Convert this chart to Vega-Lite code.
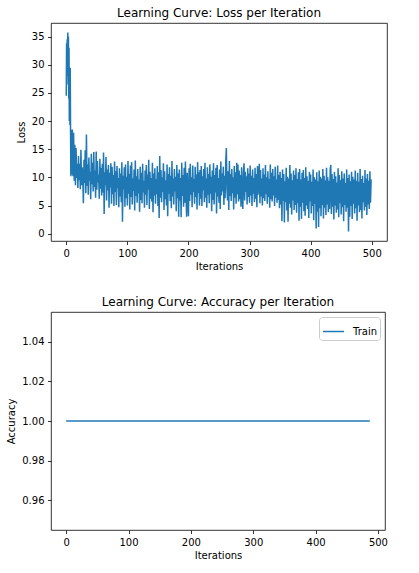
{
  "$schema": "https://vega.github.io/schema/vega-lite/v6.json",
  "background": "white",
  "padding": {"top": 6, "left": 6, "right": 5, "bottom": 5},
  "spacing": 23,
  "columns": 1,
  "resolve": {"legend": {"color": "independent"}, "scale": {"color": "independent"}},
  "config": {
    "font": "DejaVu Sans",
    "view": {"stroke": "black", "strokeWidth": 0.8},
    "axis": {
      "grid": false, "domain": false, "tickColor": "black", "tickSize": 3.5, "tickWidth": 0.8,
      "labelColor": "black", "labelFontSize": 10, "labelPadding": 3.5, "labelFont": "DejaVu Sans",
      "titleColor": "black", "titleFontSize": 10, "titleFontWeight": "normal", "titleFont": "DejaVu Sans"
    },
    "title": {"fontSize": 12, "fontWeight": "normal", "color": "black", "font": "DejaVu Sans", "offset": 3}
  },
  "datasets": {
    "loss": [
      {"i":0,"loss":24.5},{"i":0.5,"loss":33.8},{"i":1,"loss":26.5},{"i":1.5,"loss":34.5},{"i":2,"loss":28.0},{"i":2.5,"loss":35.7},{"i":3,"loss":30.5},{"i":3.5,"loss":35.0},{"i":4,"loss":24.0},{"i":4.5,"loss":33.0},
      {"i":5,"loss":20.0},{"i":5.5,"loss":29.5},{"i":6,"loss":19.3},{"i":6.5,"loss":29.4},{"i":7,"loss":18.6},{"i":7.5,"loss":10.2},{"i":8,"loss":18.4},{"i":8.5,"loss":11.0},{"i":9,"loss":17.8},{"i":9.5,"loss":10.5},
      {"i":10,"loss":18.5},{"i":11,"loss":10.2},{"i":12,"loss":17.9},{"i":13,"loss":9.4},{"i":14,"loss":15.8},{"i":15,"loss":8.6},{"i":16,"loss":15.2},{"i":17,"loss":9.9},{"i":18,"loss":12.4},{"i":19,"loss":8.1},
      {"i":20,"loss":13.8},{"i":21,"loss":9.5},{"i":22,"loss":12.4},{"i":23,"loss":7.9},{"i":24,"loss":14.9},{"i":25,"loss":8.6},{"i":26,"loss":11.8},{"i":27,"loss":10.2},{"i":28,"loss":5.4},{"i":29,"loss":13.1},
      {"i":30,"loss":9.0},{"i":31,"loss":14.8},{"i":32,"loss":7.2},{"i":33,"loss":17.6},{"i":34,"loss":8.5},{"i":35,"loss":12.3},{"i":36,"loss":6.9},{"i":37,"loss":13.5},{"i":38,"loss":9.4},{"i":39,"loss":11.0},
      {"i":40,"loss":6.1},{"i":41,"loss":14.2},{"i":42,"loss":8.8},{"i":43,"loss":12.6},{"i":44,"loss":7.5},{"i":45,"loss":14.5},{"i":46,"loss":8.3},{"i":47,"loss":11.2},{"i":48,"loss":6.4},{"i":49,"loss":14.6},
      {"i":50,"loss":7.8},{"i":51,"loss":12.9},{"i":52,"loss":9.1},{"i":53,"loss":10.5},{"i":54,"loss":6.2},{"i":55,"loss":13.3},{"i":56,"loss":8.0},{"i":57,"loss":11.7},{"i":58,"loss":6.8},{"i":59,"loss":12.4},
      {"i":60,"loss":7.3},{"i":61,"loss":14.4},{"i":62,"loss":3.5},{"i":63,"loss":10.9},{"i":64,"loss":8.6},{"i":65,"loss":13.6},{"i":66,"loss":5.9},{"i":67,"loss":11.4},{"i":68,"loss":7.7},{"i":69,"loss":12.2},
      {"i":70,"loss":4.6},{"i":71,"loss":10.8},{"i":72,"loss":8.2},{"i":73,"loss":12.5},{"i":74,"loss":5.3},{"i":75,"loss":11.9},{"i":76,"loss":7.0},{"i":77,"loss":10.4},{"i":78,"loss":4.9},{"i":79,"loss":12.8},
      {"i":80,"loss":7.4},{"i":81,"loss":11.1},{"i":82,"loss":5.1},{"i":83,"loss":12.0},{"i":84,"loss":8.1},{"i":85,"loss":9.9},{"i":86,"loss":4.7},{"i":87,"loss":11.6},{"i":88,"loss":6.6},{"i":89,"loss":10.7},
      {"i":90,"loss":5.6},{"i":91,"loss":12.7},{"i":92,"loss":2.1},{"i":93,"loss":10.3},{"i":94,"loss":7.9},{"i":95,"loss":11.8},{"i":96,"loss":4.8},{"i":97,"loss":12.3},{"i":98,"loss":6.3},{"i":99,"loss":10.1},
      {"i":100,"loss":5.0},{"i":101,"loss":12.9},{"i":102,"loss":7.1},{"i":103,"loss":10.6},{"i":104,"loss":4.3},{"i":105,"loss":12.1},{"i":106,"loss":6.5},{"i":107,"loss":12.7},{"i":108,"loss":5.2},{"i":109,"loss":9.8},
      {"i":110,"loss":7.6},{"i":111,"loss":11.4},{"i":112,"loss":4.1},{"i":113,"loss":13.0},{"i":114,"loss":6.7},{"i":115,"loss":10.2},{"i":116,"loss":5.5},{"i":117,"loss":11.5},{"i":118,"loss":7.2},{"i":119,"loss":9.6},
      {"i":120,"loss":3.9},{"i":121,"loss":11.9},{"i":122,"loss":6.0},{"i":123,"loss":10.8},{"i":124,"loss":5.4},{"i":125,"loss":12.4},{"i":126,"loss":7.3},{"i":127,"loss":9.4},{"i":128,"loss":4.6},{"i":129,"loss":11.2},
      {"i":130,"loss":6.9},{"i":131,"loss":12.2},{"i":132,"loss":5.1},{"i":133,"loss":10.5},{"i":134,"loss":7.8},{"i":135,"loss":13.1},{"i":136,"loss":4.4},{"i":137,"loss":11.0},{"i":138,"loss":6.2},{"i":139,"loss":9.9},
      {"i":140,"loss":5.7},{"i":141,"loss":12.6},{"i":142,"loss":3.8},{"i":143,"loss":10.7},{"i":144,"loss":6.8},{"i":145,"loss":11.6},{"i":146,"loss":5.3},{"i":147,"loss":9.7},{"i":148,"loss":7.0},{"i":149,"loss":12.0},
      {"i":150,"loss":4.9},{"i":151,"loss":10.9},{"i":152,"loss":2.8},{"i":153,"loss":13.8},{"i":154,"loss":6.4},{"i":155,"loss":11.3},{"i":156,"loss":5.6},{"i":157,"loss":10.0},{"i":158,"loss":7.4},{"i":159,"loss":12.5},
      {"i":160,"loss":4.2},{"i":161,"loss":11.1},{"i":162,"loss":6.1},{"i":163,"loss":9.5},{"i":164,"loss":5.0},{"i":165,"loss":12.3},{"i":166,"loss":3.1},{"i":167,"loss":10.6},{"i":168,"loss":7.1},{"i":169,"loss":11.8},
      {"i":170,"loss":5.8},{"i":171,"loss":10.3},{"i":172,"loss":4.5},{"i":173,"loss":12.9},{"i":174,"loss":6.6},{"i":175,"loss":9.8},{"i":176,"loss":5.2},{"i":177,"loss":11.5},{"i":178,"loss":7.5},{"i":179,"loss":10.1},
      {"i":180,"loss":4.0},{"i":181,"loss":12.2},{"i":182,"loss":6.3},{"i":183,"loss":10.7},{"i":184,"loss":3.0},{"i":185,"loss":11.4},{"i":186,"loss":5.9},{"i":187,"loss":9.9},{"i":188,"loss":2.9},{"i":189,"loss":12.6},
      {"i":190,"loss":6.7},{"i":191,"loss":10.4},{"i":192,"loss":4.8},{"i":193,"loss":11.7},{"i":194,"loss":5.5},{"i":195,"loss":12.8},{"i":196,"loss":7.0},{"i":197,"loss":3.0},{"i":198,"loss":10.8},{"i":199,"loss":6.1},
      {"i":200,"loss":3.1},{"i":201,"loss":11.6},{"i":202,"loss":5.8},{"i":203,"loss":12.4},{"i":204,"loss":6.9},{"i":205,"loss":10.0},{"i":206,"loss":4.7},{"i":207,"loss":12.1},{"i":208,"loss":7.4},{"i":209,"loss":9.7},
      {"i":210,"loss":5.3},{"i":211,"loss":11.9},{"i":212,"loss":6.5},{"i":213,"loss":10.5},{"i":214,"loss":4.3},{"i":215,"loss":12.7},{"i":216,"loss":7.2},{"i":217,"loss":10.9},{"i":218,"loss":5.0},{"i":219,"loss":11.3},
      {"i":220,"loss":6.2},{"i":221,"loss":12.0},{"i":222,"loss":4.9},{"i":223,"loss":10.2},{"i":224,"loss":7.7},{"i":225,"loss":11.5},{"i":226,"loss":5.6},{"i":227,"loss":12.6},{"i":228,"loss":6.4},{"i":229,"loss":9.8},
      {"i":230,"loss":4.6},{"i":231,"loss":11.8},{"i":232,"loss":6.9},{"i":233,"loss":10.6},{"i":234,"loss":5.4},{"i":235,"loss":12.3},{"i":236,"loss":7.1},{"i":237,"loss":10.1},{"i":238,"loss":4.0},{"i":239,"loss":11.2},
      {"i":240,"loss":6.0},{"i":241,"loss":12.5},{"i":242,"loss":5.2},{"i":243,"loss":10.4},{"i":244,"loss":7.3},{"i":245,"loss":11.7},{"i":246,"loss":3.6},{"i":247,"loss":12.2},{"i":248,"loss":6.6},{"i":249,"loss":9.9},
      {"i":250,"loss":5.5},{"i":251,"loss":11.4},{"i":252,"loss":4.4},{"i":253,"loss":12.8},{"i":254,"loss":6.8},{"i":255,"loss":10.7},{"i":256,"loss":7.5},{"i":257,"loss":11.9},{"i":258,"loss":5.1},{"i":259,"loss":10.3},
      {"i":260,"loss":6.3},{"i":261,"loss":12.4},{"i":262,"loss":15.2},{"i":263,"loss":8.0},{"i":264,"loss":5.9},{"i":265,"loss":11.1},{"i":266,"loss":4.2},{"i":267,"loss":12.9},{"i":268,"loss":6.7},{"i":269,"loss":10.6},
      {"i":270,"loss":5.8},{"i":271,"loss":11.5},{"i":272,"loss":7.2},{"i":273,"loss":10.0},{"i":274,"loss":4.3},{"i":275,"loss":12.0},{"i":276,"loss":6.4},{"i":277,"loss":10.9},{"i":278,"loss":5.3},{"i":279,"loss":12.6},
      {"i":280,"loss":7.0},{"i":281,"loss":12.3},{"i":282,"loss":5.7},{"i":283,"loss":11.2},{"i":284,"loss":6.1},{"i":285,"loss":10.4},{"i":286,"loss":4.8},{"i":287,"loss":11.8},{"i":288,"loss":6.9},{"i":289,"loss":4.4},
      {"i":290,"loss":10.8},{"i":291,"loss":12.5},{"i":292,"loss":5.9},{"i":293,"loss":11.0},{"i":294,"loss":7.4},{"i":295,"loss":10.2},{"i":296,"loss":5.2},{"i":297,"loss":11.6},{"i":298,"loss":6.5},{"i":299,"loss":10.7},
      {"i":300,"loss":5.5},{"i":301,"loss":12.1},{"i":302,"loss":6.8},{"i":303,"loss":10.3},{"i":304,"loss":4.9},{"i":305,"loss":11.4},{"i":306,"loss":7.1},{"i":307,"loss":9.9},{"i":308,"loss":5.6},{"i":309,"loss":11.7},
      {"i":310,"loss":6.2},{"i":311,"loss":10.6},{"i":312,"loss":4.7},{"i":313,"loss":12.0},{"i":314,"loss":6.9},{"i":315,"loss":10.1},{"i":316,"loss":12.4},{"i":317,"loss":5.4},{"i":318,"loss":11.3},{"i":319,"loss":6.6},
      {"i":320,"loss":9.8},{"i":321,"loss":5.0},{"i":322,"loss":11.6},{"i":323,"loss":6.3},{"i":324,"loss":10.5},{"i":325,"loss":5.8},{"i":326,"loss":12.2},{"i":327,"loss":7.0},{"i":328,"loss":10.0},{"i":329,"loss":5.3},
      {"i":330,"loss":11.1},{"i":331,"loss":6.5},{"i":332,"loss":9.7},{"i":333,"loss":4.6},{"i":334,"loss":12.3},{"i":335,"loss":6.1},{"i":336,"loss":10.8},{"i":337,"loss":5.7},{"i":338,"loss":11.5},{"i":339,"loss":6.8},
      {"i":340,"loss":10.2},{"i":341,"loss":4.9},{"i":342,"loss":11.9},{"i":343,"loss":6.4},{"i":344,"loss":9.6},{"i":345,"loss":5.5},{"i":346,"loss":12.1},{"i":347,"loss":6.0},{"i":348,"loss":10.4},{"i":349,"loss":4.5},
      {"i":350,"loss":11.0},{"i":351,"loss":5.2},{"i":352,"loss":9.9},{"i":353,"loss":2.2},{"i":354,"loss":11.4},{"i":355,"loss":5.8},{"i":356,"loss":10.6},{"i":357,"loss":2.0},{"i":358,"loss":9.3},{"i":359,"loss":5.6},
      {"i":360,"loss":11.7},{"i":361,"loss":4.1},{"i":362,"loss":10.1},{"i":363,"loss":2.1},{"i":364,"loss":9.8},{"i":365,"loss":5.3},{"i":366,"loss":12.2},{"i":367,"loss":4.6},{"i":368,"loss":10.7},{"i":369,"loss":3.4},
      {"i":370,"loss":9.5},{"i":371,"loss":5.9},{"i":372,"loss":11.2},{"i":373,"loss":4.2},{"i":374,"loss":10.4},{"i":375,"loss":5.1},{"i":376,"loss":11.6},{"i":377,"loss":3.7},{"i":378,"loss":9.7},{"i":379,"loss":5.4},
      {"i":380,"loss":10.9},{"i":381,"loss":2.3},{"i":382,"loss":11.5},{"i":383,"loss":4.8},{"i":384,"loss":9.6},{"i":385,"loss":2.6},{"i":386,"loss":10.8},{"i":387,"loss":5.5},{"i":388,"loss":11.3},{"i":389,"loss":4.0},
      {"i":390,"loss":9.9},{"i":391,"loss":3.2},{"i":392,"loss":11.8},{"i":393,"loss":5.0},{"i":394,"loss":10.2},{"i":395,"loss":4.4},{"i":396,"loss":9.4},{"i":397,"loss":2.8},{"i":398,"loss":11.0},{"i":399,"loss":5.7},
      {"i":400,"loss":10.5},{"i":401,"loss":3.6},{"i":402,"loss":9.2},{"i":403,"loss":4.9},{"i":404,"loss":11.4},{"i":405,"loss":2.4},{"i":406,"loss":10.0},{"i":407,"loss":5.3},{"i":408,"loss":9.6},{"i":409,"loss":0.9},
      {"i":410,"loss":10.9},{"i":411,"loss":3.9},{"i":412,"loss":9.3},{"i":413,"loss":1.2},{"i":414,"loss":11.2},{"i":415,"loss":4.5},{"i":416,"loss":10.1},{"i":417,"loss":3.1},{"i":418,"loss":9.8},{"i":419,"loss":5.1},
      {"i":420,"loss":11.5},{"i":421,"loss":2.7},{"i":422,"loss":10.3},{"i":423,"loss":4.6},{"i":424,"loss":9.5},{"i":425,"loss":3.3},{"i":426,"loss":11.7},{"i":427,"loss":5.2},{"i":428,"loss":10.0},{"i":429,"loss":3.8},
      {"i":430,"loss":9.4},{"i":431,"loss":4.4},{"i":432,"loss":11.3},{"i":433,"loss":12.2},{"i":434,"loss":3.5},{"i":435,"loss":10.6},{"i":436,"loss":4.8},{"i":437,"loss":9.7},{"i":438,"loss":2.5},{"i":439,"loss":11.0},
      {"i":440,"loss":5.0},{"i":441,"loss":10.2},{"i":442,"loss":3.7},{"i":443,"loss":9.1},{"i":444,"loss":4.3},{"i":445,"loss":11.6},{"i":446,"loss":2.9},{"i":447,"loss":10.4},{"i":448,"loss":5.4},{"i":449,"loss":9.5},
      {"i":450,"loss":3.4},{"i":451,"loss":11.1},{"i":452,"loss":4.7},{"i":453,"loss":9.8},{"i":454,"loss":2.2},{"i":455,"loss":10.7},{"i":456,"loss":5.1},{"i":457,"loss":9.0},{"i":458,"loss":3.9},{"i":459,"loss":11.4},
      {"i":460,"loss":4.6},{"i":461,"loss":9.9},{"i":462,"loss":0.4},{"i":463,"loss":10.5},{"i":464,"loss":3.0},{"i":465,"loss":9.3},{"i":466,"loss":4.9},{"i":467,"loss":11.0},{"i":468,"loss":2.6},{"i":469,"loss":10.1},
      {"i":470,"loss":5.3},{"i":471,"loss":9.6},{"i":472,"loss":3.6},{"i":473,"loss":11.2},{"i":474,"loss":4.5},{"i":475,"loss":9.4},{"i":476,"loss":2.3},{"i":477,"loss":10.8},{"i":478,"loss":5.0},{"i":479,"loss":9.2},
      {"i":480,"loss":3.8},{"i":481,"loss":11.5},{"i":482,"loss":4.2},{"i":483,"loss":9.7},{"i":484,"loss":2.7},{"i":485,"loss":10.3},{"i":486,"loss":5.6},{"i":487,"loss":9.0},{"i":488,"loss":4.1},{"i":489,"loss":11.3},
      {"i":490,"loss":4.8},{"i":491,"loss":9.8},{"i":492,"loss":3.3},{"i":493,"loss":10.6},{"i":494,"loss":5.2},{"i":495,"loss":9.4},{"i":496,"loss":4.4},{"i":497,"loss":11.1},{"i":498,"loss":5.5},{"i":499,"loss":9.6}
    ],
    "acc": [
      {"i":0,"acc":1,"series":"Train"},{"i":10,"acc":1,"series":"Train"},{"i":20,"acc":1,"series":"Train"},{"i":30,"acc":1,"series":"Train"},{"i":40,"acc":1,"series":"Train"},
      {"i":50,"acc":1,"series":"Train"},{"i":60,"acc":1,"series":"Train"},{"i":70,"acc":1,"series":"Train"},{"i":80,"acc":1,"series":"Train"},{"i":90,"acc":1,"series":"Train"},
      {"i":100,"acc":1,"series":"Train"},{"i":110,"acc":1,"series":"Train"},{"i":120,"acc":1,"series":"Train"},{"i":130,"acc":1,"series":"Train"},{"i":140,"acc":1,"series":"Train"},
      {"i":150,"acc":1,"series":"Train"},{"i":160,"acc":1,"series":"Train"},{"i":170,"acc":1,"series":"Train"},{"i":180,"acc":1,"series":"Train"},{"i":190,"acc":1,"series":"Train"},
      {"i":200,"acc":1,"series":"Train"},{"i":210,"acc":1,"series":"Train"},{"i":220,"acc":1,"series":"Train"},{"i":230,"acc":1,"series":"Train"},{"i":240,"acc":1,"series":"Train"},
      {"i":250,"acc":1,"series":"Train"},{"i":260,"acc":1,"series":"Train"},{"i":270,"acc":1,"series":"Train"},{"i":280,"acc":1,"series":"Train"},{"i":290,"acc":1,"series":"Train"},
      {"i":300,"acc":1,"series":"Train"},{"i":310,"acc":1,"series":"Train"},{"i":320,"acc":1,"series":"Train"},{"i":330,"acc":1,"series":"Train"},{"i":340,"acc":1,"series":"Train"},
      {"i":350,"acc":1,"series":"Train"},{"i":360,"acc":1,"series":"Train"},{"i":370,"acc":1,"series":"Train"},{"i":380,"acc":1,"series":"Train"},{"i":390,"acc":1,"series":"Train"},
      {"i":400,"acc":1,"series":"Train"},{"i":410,"acc":1,"series":"Train"},{"i":420,"acc":1,"series":"Train"},{"i":430,"acc":1,"series":"Train"},{"i":440,"acc":1,"series":"Train"},
      {"i":450,"acc":1,"series":"Train"},{"i":460,"acc":1,"series":"Train"},{"i":470,"acc":1,"series":"Train"},{"i":480,"acc":1,"series":"Train"},{"i":487,"acc":1,"series":"Train"}
    ]
  },
  "concat": [
    {
      "title": "Learning Curve: Loss per Iteration",
      "width": 336,
      "height": 218,
      "data": {"name": "loss"},
      "mark": {"type": "line", "color": "#1f77b4", "strokeWidth": 1.5, "clip": true},
      "encoding": {
        "x": {"field": "i", "type": "quantitative", "title": "Iterations",
              "scale": {"domain": [-25, 525], "nice": false, "zero": false},
              "axis": {"values": [0, 100, 200, 300, 400, 500], "titlePadding": 3}},
        "y": {"field": "loss", "type": "quantitative", "title": "Loss",
              "scale": {"domain": [-1.3, 37.4], "nice": false, "zero": false},
              "axis": {"values": [0, 5, 10, 15, 20, 25, 30, 35], "titlePadding": 5}}
      }
    },
    {
      "title": "Learning Curve: Accuracy per Iteration",
      "width": 334,
      "height": 218,
      "data": {"name": "acc"},
      "mark": {"type": "line", "strokeWidth": 1.5, "clip": true},
      "encoding": {
        "x": {"field": "i", "type": "quantitative", "title": "Iterations",
              "scale": {"domain": [-24.35, 511.35], "nice": false, "zero": false},
              "axis": {"values": [0, 100, 200, 300, 400, 500], "titlePadding": 3}},
        "y": {"field": "acc", "type": "quantitative", "title": "Accuracy",
              "scale": {"domain": [0.945, 1.055], "nice": false, "zero": false},
              "axis": {"values": [0.96, 0.98, 1.0, 1.02, 1.04], "format": ".2f", "titlePadding": 5}},
        "color": {"field": "series", "type": "nominal", "title": null,
                  "scale": {"range": ["#1f77b4"]},
                  "legend": {"orient": "top-right", "offset": 5, "symbolType": "stroke", "symbolSize": 440,
                             "symbolStrokeWidth": 1.5, "labelFontSize": 10, "labelColor": "black", "labelFont": "DejaVu Sans",
                             "strokeColor": "#cccccc", "fillColor": "white", "padding": 3, "cornerRadius": 3, "labelOffset": 8}}
      }
    }
  ]
}
